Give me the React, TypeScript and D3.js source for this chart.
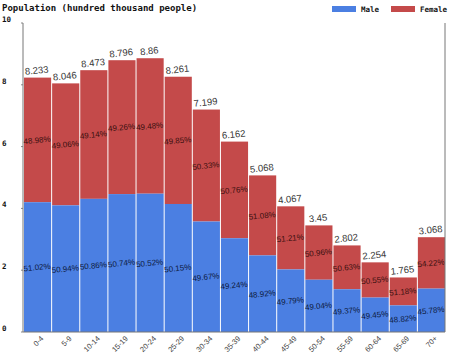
import React from "react";
import * as d3 from "d3";

const categories = ["0-4","5-9","10-14","15-19","20-24","25-29","30-34","35-39","40-44","45-49","50-54","55-59","60-64","65-69","70+"];
const totals = [8.233,8.046,8.473,8.796,8.86,8.261,7.199,6.162,5.068,4.067,3.45,2.802,2.254,1.765,3.068];
const malePct = [51.02,50.94,50.86,50.74,50.52,50.15,49.67,49.24,48.92,49.79,49.04,49.37,49.45,48.82,45.78];
const femalePct = [48.98,49.06,49.14,49.26,49.48,49.85,50.33,50.76,51.08,51.21,50.96,50.63,50.55,51.18,54.22];
const yTicks = [0,2,4,6,8,10];

const W = 474, H = 355;
const BLUE = "#4b7fe2";
const RED = "#c44a4a";

export default function App() {
  const x = d3.scaleBand<string>().domain(categories).range([23, 445]).paddingInner(0).paddingOuter(0);
  const y = d3.scaleLinear().domain([0, 10]).range([332, 23]);
  const bw = x.bandwidth();
  const mono = "'DejaVu Sans Mono', monospace";
  const sans = "'Liberation Sans', Arial, sans-serif";
  return (
    <svg width={W} height={H} style={{ position: "absolute", left: 0, top: 0 }}>
      <rect width={W} height={H} fill="#fff" />
      <text x={2} y={11} fontFamily={mono} fontWeight="bold" fontSize={9} fill="#111">Population (hundred thousand people)</text>
      <rect x={332} y={6} width={24} height={6} fill={BLUE} />
      <text x={361} y={12} fontFamily={mono} fontWeight="bold" fontSize={7.5} fill="#111">Male</text>
      <rect x={391} y={6} width={24} height={6} fill={RED} />
      <text x={420} y={12} fontFamily={mono} fontWeight="bold" fontSize={7.5} fill="#111">Female</text>
      {yTicks.map(t => (
        <g key={t}>
          <text x={2} y={y(t) - 1} fontFamily={mono} fontWeight="bold" fontSize={7.5} fill="#111">{t}</text>
          <line x1={21} x2={23} y1={y(t)} y2={y(t)} stroke="#888" />
        </g>
      ))}
      {categories.map((c, i) => {
        const x0 = x(c)! + 1;
        const w = bw - 1;
        const male = totals[i] * malePct[i] / 100;
        const cx = x(c)! + bw / 2;
        const ym = y(male);
        const yt = y(totals[i]);
        const fm = (ym + yt) / 2;
        const mm = (y(0) + ym) / 2;
        const lx = cx + 7, ly = 339;
        return (
          <g key={c}>
            <rect x={x0} y={yt} width={w} height={ym - yt} fill={RED} />
            <rect x={x0} y={ym} width={w} height={y(0) - ym} fill={BLUE} />
            <text x={cx} y={yt - 4} textAnchor="middle" fontFamily={sans} fontSize={9.5} fill="#333" transform={`rotate(-6 ${cx} ${yt - 4})`}>{totals[i]}</text>
            <text x={cx} y={fm + 3} textAnchor="middle" fontFamily={sans} fontSize={8} fill="#3a1010" transform={`rotate(-6 ${cx} ${fm})`}>{femalePct[i].toFixed(2)}%</text>
            <text x={cx} y={mm + 3} textAnchor="middle" fontFamily={sans} fontSize={8} fill="#0d1a40" transform={`rotate(-6 ${cx} ${mm})`}>{malePct[i].toFixed(2)}%</text>
            <text x={lx} y={ly} textAnchor="end" fontFamily={sans} fontSize={7.5} fill="#444" transform={`rotate(-45 ${lx} ${ly})`}>{c}</text>
          </g>
        );
      })}
      <line x1={23} x2={23} y1={y(10)} y2={y(0)} stroke="#777" />
      <line x1={445} x2={445} y1={y(10)} y2={y(0)} stroke="#777" />
      <line x1={23} x2={445} y1={y(0)} y2={y(0)} stroke="#777" />
    </svg>
  );
}
